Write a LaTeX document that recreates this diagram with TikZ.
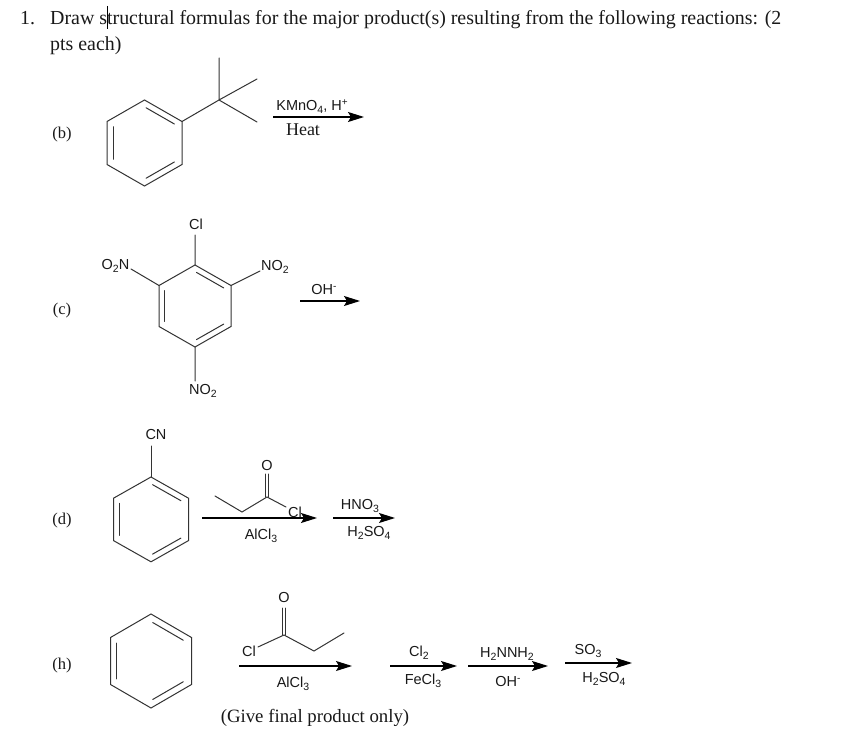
\documentclass[tikz,border=0pt]{standalone}
\usepackage{fontspec}
\setmainfont{Liberation Serif}
\newfontfamily\chemfont{Liberation Sans}
\usetikzlibrary{arrows.meta,calc}
\tikzset{
  bond/.style={draw=black!80,line width=1pt,line cap=round},
  rxn/.style={draw=black,line width=1.2pt,-{Stealth[length=16pt,width=10pt,inset=3pt]}},
  chem/.style={font=\chemfont\fontsize{14.5}{16}\selectfont,inner sep=0pt,text=black!90},
  body/.style={font=\fontsize{19.9}{22}\selectfont,inner sep=0pt,anchor=base west,text=black!90},
  tag/.style={font=\fontsize{16.5}{19}\selectfont,inner sep=0pt,text=black!90},
}
\newcommand{\sbs}[1]{\raisebox{-3pt}{\fontsize{10.5}{12}\selectfont #1}}
\newcommand{\sps}[1]{\raisebox{5pt}{\fontsize{10}{12}\selectfont #1}}
% ring: name, top x,y, half-width, quarter-height
\newcommand{\chemring}[5]{%
  \coordinate (#1t) at (#2,#3);
  \coordinate (#1ur) at (#2+#4,#3+#5);
  \coordinate (#1lr) at (#2+#4,#3+3*#5);
  \coordinate (#1b) at (#2,#3+4*#5);
  \coordinate (#1ll) at (#2-#4,#3+3*#5);
  \coordinate (#1ul) at (#2-#4,#3+#5);
  \coordinate (#1c) at (#2,#3+2*#5);
  \draw[bond] (#1t)--(#1ur)--(#1lr)--(#1b)--(#1ll)--(#1ul)--cycle;
}
% inner line of a double bond: ring name, the two vertices
\newcommand{\ringdouble}[3]{%
  \draw[bond] ($($(#2)!0.05!(#3)$)!0.16!(#1c)$) -- ($($(#3)!0.05!(#2)$)!0.16!(#1c)$);
}
\begin{document}
\begin{tikzpicture}[x=1pt,y=-1pt]
\useasboundingbox (0,0) rectangle (852,733);
\fill[white] (0,0) rectangle (852,733);

% heading
\node[body] (num) at (20,25) {1.};
\node[body] (line1) at (50,25) {Draw structural formulas for the major product(s) resulting from the following reactions: (2};
\node[body] (line2) at (50,51) {pts each)};
\coordinate (curT) at (107,6);
\coordinate (curB) at (107,29);
\draw[black,line width=0.8pt] (curT)--(curB);

% tags
\node[tag] (tb) at (62,135) {(b)};
\node[tag] (tc) at (62,311) {(c)};
\node[tag] (td) at (62,521) {(d)};
\node[tag] (th) at (62,666) {(h)};

% (b)
\chemring{B}{144.5}{100}{37.5}{21.5}
\ringdouble{B}{Bt}{Bur}
\ringdouble{B}{Blr}{Bb}
\ringdouble{B}{Bll}{Bul}
\coordinate (Bq) at (219,100);
\coordinate (Bm1) at (219,58);
\coordinate (Bm2) at (257,79);
\coordinate (Bm3) at (257,122);
\draw[bond] (Bur)--(Bq) (Bq)--(Bm1) (Bq)--(Bm2) (Bq)--(Bm3);
\coordinate (Ba1) at (273,117);
\coordinate (Ba2) at (364,117);
\draw[rxn] (Ba1)--(Ba2);
\node[chem] (kmno) at (312,107) {KMnO\sbs{4}, H\sps{+}};
\node[tag,font=\fontsize{18}{20}\selectfont] (heat) at (303,130) {Heat};

% (c)
\chemring{C}{195}{265}{36}{20.5}
\ringdouble{C}{Ct}{Cur}
\ringdouble{C}{Clr}{Cb}
\ringdouble{C}{Cll}{Cul}
\node[chem] (Ccl) at (196,224) {Cl};
\node[chem] (Cn1) at (115.5,265.5) {O\sbs{2}N};
\node[chem] (Cn2) at (275,266.5) {NO\sbs{2}};
\node[chem] (Cn3) at (203,391) {NO\sbs{2}};
\coordinate (Cclb) at (195,235);
\coordinate (Cn1b) at (131,269);
\coordinate (Cn2b) at (260,271);
\coordinate (Cn3b) at (195,381);
\draw[bond] (Ct)--(Cclb) (Cul)--(Cn1b) (Cur)--(Cn2b) (Cb)--(Cn3b);
\coordinate (Ca1) at (300,301);
\coordinate (Ca2) at (360,301);
\draw[rxn] (Ca1)--(Ca2);
\node[chem] (Coh) at (324,289.5) {OH\sps{-}};

% (d)
\chemring{D}{151}{477}{37.5}{21.2}
\ringdouble{D}{Dt}{Dur}
\ringdouble{D}{Dlr}{Db}
\ringdouble{D}{Dll}{Dul}
\node[chem] (Dcn) at (156,434.5) {CN};
\coordinate (Dcnb) at (151,446);
\draw[bond] (Dt)--(Dcnb);
\coordinate (Dp1) at (215,496);
\coordinate (Dp2) at (242,512);
\coordinate (Dp3) at (267,497);
\node[chem] (Do) at (267,466) {O};
\node[chem] (Dcl) at (295,512) {Cl};
\coordinate (Dob) at (265.5,474);
\coordinate (Dob2) at (268.5,474);
\coordinate (Dp3a) at (265.5,497);
\coordinate (Dp3b) at (268.5,497);
\coordinate (Dclb) at (286,507);
\draw[bond] (Dp1)--(Dp2)--(Dp3)--(Dclb);
\draw[bond] (Dp3a)--(Dob) (Dp3b)--(Dob2);
\coordinate (Da1) at (202,518);
\coordinate (Da2) at (317,518);
\draw[rxn] (Da1)--(Da2);
\node[chem] (Dal) at (261,536) {AlCl\sbs{3}};
\node[chem] (Dh) at (360,506) {HNO\sbs{3}};
\coordinate (Da3) at (333,518);
\coordinate (Da4) at (395,518);
\draw[rxn] (Da3)--(Da4);
\node[chem] (Ds) at (369,533) {H\sbs{2}SO\sbs{4}};

% (h)
\chemring{H}{151}{614}{40.5}{23.5}
\ringdouble{H}{Ht}{Hur}
\ringdouble{H}{Hlr}{Hb}
\ringdouble{H}{Hll}{Hul}
\node[chem] (Hcl) at (249,651.5) {Cl};
\node[chem] (Ho) at (284,597.5) {O};
\coordinate (Hclb) at (258,647);
\coordinate (Hp1) at (284,635);
\coordinate (Hp2) at (314,651);
\coordinate (Hp3) at (344,633);
\coordinate (Hob) at (282.5,608);
\coordinate (Hob2) at (285.5,608);
\coordinate (Hp1a) at (282.5,635);
\coordinate (Hp1b) at (285.5,635);
\draw[bond] (Hclb)--(Hp1)--(Hp2)--(Hp3);
\draw[bond] (Hp1a)--(Hob) (Hp1b)--(Hob2);
\coordinate (Ha1) at (239,666);
\coordinate (Ha2) at (352,666);
\draw[rxn] (Ha1)--(Ha2);
\node[chem] (Hal) at (293,684) {AlCl\sbs{3}};
\node[tag,font=\fontsize{18.8}{21}\selectfont] (give) at (315,718) {(Give final product only)};
\node[chem] (Hc2) at (419,653) {Cl\sbs{2}};
\coordinate (Ha3) at (390,666);
\coordinate (Ha4) at (457,666);
\draw[rxn] (Ha3)--(Ha4);
\node[chem] (Hfe) at (423,681) {FeCl\sbs{3}};
\node[chem] (Hhz) at (507,654) {H\sbs{2}NNH\sbs{2}};
\coordinate (Ha5) at (468,666);
\coordinate (Ha6) at (548,666);
\draw[rxn] (Ha5)--(Ha6);
\node[chem] (Hoh) at (508,681.5) {OH\sps{-}};
\node[chem] (Hso3) at (588,651) {SO\sbs{3}};
\coordinate (Ha7) at (565,663);
\coordinate (Ha8) at (632,663);
\draw[rxn] (Ha7)--(Ha8);
\node[chem] (Hs) at (604,679) {H\sbs{2}SO\sbs{4}};
\end{tikzpicture}
\end{document}
